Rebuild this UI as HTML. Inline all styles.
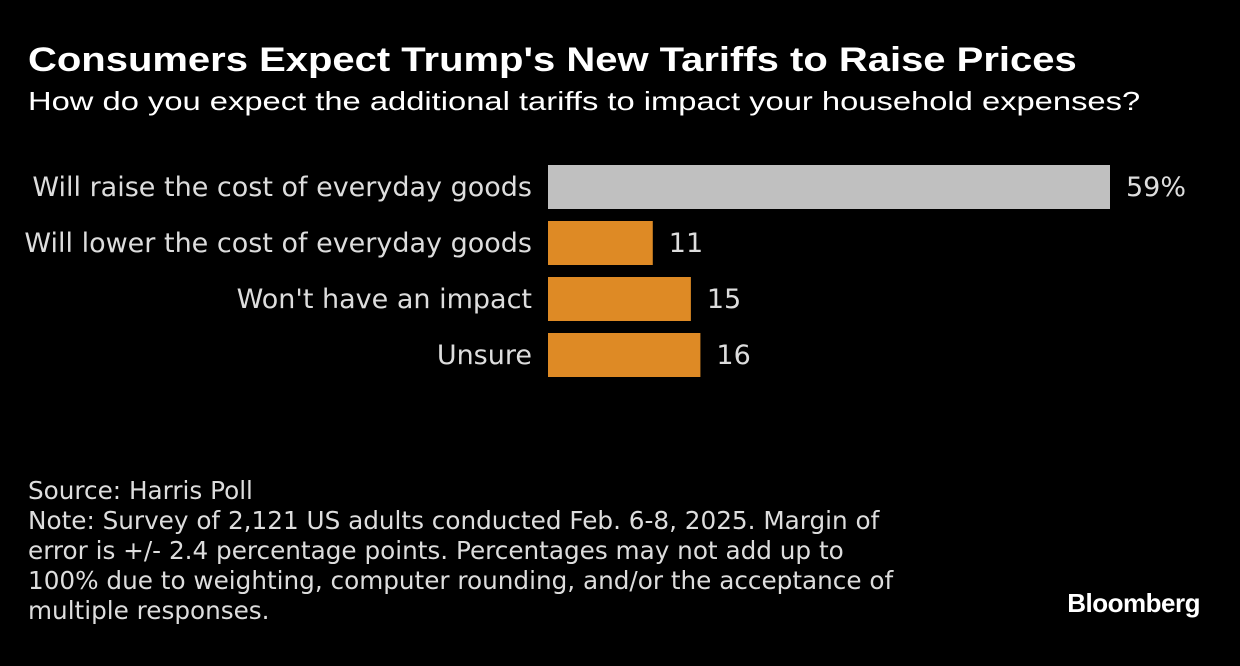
<!DOCTYPE html>
<html><head><meta charset="utf-8"><style>
body{margin:0;background:#000;width:1240px;height:666px;overflow:hidden;position:relative;color:#fff}
.t{position:absolute;left:28px;top:41px;font:bold 34px "Liberation Sans",sans-serif;white-space:nowrap;transform:scaleX(1.176);transform-origin:left top}
.s{position:absolute;left:28px;top:86px;font:26px "Liberation Sans",sans-serif;white-space:nowrap;transform:scaleX(1.258);transform-origin:left top}
.f{position:absolute;left:28px;top:476px;font:24.7px/30px "DejaVu Sans",sans-serif;color:#ddd;white-space:nowrap}
.b{position:absolute;right:40px;top:588px;font:bold 26px "Liberation Sans",sans-serif;letter-spacing:-0.5px}
svg{position:absolute;left:0;top:0}
svg text{font-family:"DejaVu Sans",sans-serif;font-size:27px;fill:#ddd}
</style></head><body>
<div class="t">Consumers Expect Trump's New Tariffs to Raise Prices</div>
<div class="s">How do you expect the additional tariffs to impact your household expenses?</div>
<svg id="c" width="1240" height="666"></svg>
<div class="f">Source: Harris Poll<br>Note: Survey of 2,121 US adults conducted Feb. 6-8, 2025. Margin of<br>error is +/- 2.4 percentage points. Percentages may not add up to<br>100% due to weighting, computer rounding, and/or the acceptance of<br>multiple responses.</div>
<div class="b">Bloomberg</div>
<script>
const categories=["Will raise the cost of everyday goods","Will lower the cost of everyday goods","Won't have an impact","Unsure"];
const values=[59,11,15,16];
const valueLabels=["59%","11","15","16"];
const x0=548, pxPer=562/59, top0=165, step=56, bh=44;
const xs=v=>x0+v*pxPer, ys=i=>top0+i*step;
const svg=document.getElementById('c'), NS='http://www.w3.org/2000/svg';
categories.forEach((c,i)=>{
 const r=document.createElementNS(NS,'rect');
 r.setAttribute('x',x0);r.setAttribute('y',ys(i));r.setAttribute('width',xs(values[i])-x0);r.setAttribute('height',bh);
 r.setAttribute('fill',i===0?'#c0c0c0':'#de8a25');
 
 
 svg.appendChild(r);
 const l=document.createElementNS(NS,'text');
 l.setAttribute('x',532);l.setAttribute('y',ys(i)+bh/2+9);l.setAttribute('text-anchor','end');l.textContent=c;
 
 
 svg.appendChild(l);
 const v=document.createElementNS(NS,'text');
 v.setAttribute('x',xs(values[i])+16);v.setAttribute('y',ys(i)+bh/2+9);v.textContent=valueLabels[i];v.setAttribute('fill','#fff');v.setAttribute('font-size','25');
 
 
 svg.appendChild(v);
});
</script>
</body></html>
